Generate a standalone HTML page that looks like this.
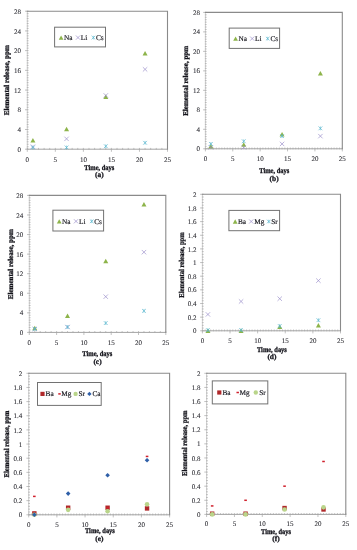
<!DOCTYPE html>
<html><head><meta charset="utf-8"><title>Elemental release</title>
<style>
html,body{margin:0;padding:0;background:#fff;}
svg{display:block;filter:blur(0.3px);}
text{text-rendering:geometricPrecision;}
.t{font-family:"Liberation Serif",serif;font-size:7px;fill:#2a2a30;stroke:#2a2a30;stroke-width:0.08px;}
.l{font-family:"Liberation Serif",serif;font-size:7.3px;fill:#15151c;stroke:#15151c;stroke-width:0.15px;}
.c{font-family:"Liberation Serif",serif;font-size:7.4px;font-weight:bold;fill:#15151c;stroke:#15151c;stroke-width:0.3px;}
.b{font-family:"Liberation Serif",serif;font-size:7.4px;font-weight:bold;fill:#15151c;stroke:#15151c;stroke-width:0.3px;}
</style></head><body>
<svg width="357" height="550" viewBox="0 0 357 550">
<rect width="357" height="550" fill="#fff"/>
<path d="M27.30,11.20V149.20" stroke="#d0d0d0" stroke-width="1" fill="none"/>
<path d="M27.30,149.20H167.50" stroke="#a4a4a4" stroke-width="1" fill="none"/>
<path d="M26.80,149.20h1.8M26.80,146.74h1.8M26.80,144.27h1.8M26.80,141.81h1.8M26.80,139.34h1.8M26.80,136.88h1.8M26.80,134.41h1.8M26.80,131.95h1.8M26.80,129.49h1.8M26.80,127.02h1.8M26.80,124.56h1.8M26.80,122.09h1.8M26.80,119.63h1.8M26.80,117.16h1.8M26.80,114.70h1.8M26.80,112.24h1.8M26.80,109.77h1.8M26.80,107.31h1.8M26.80,104.84h1.8M26.80,102.38h1.8M26.80,99.91h1.8M26.80,97.45h1.8M26.80,94.99h1.8M26.80,92.52h1.8M26.80,90.06h1.8M26.80,87.59h1.8M26.80,85.13h1.8M26.80,82.66h1.8M26.80,80.20h1.8M26.80,77.74h1.8M26.80,75.27h1.8M26.80,72.81h1.8M26.80,70.34h1.8M26.80,67.88h1.8M26.80,65.41h1.8M26.80,62.95h1.8M26.80,60.49h1.8M26.80,58.02h1.8M26.80,55.56h1.8M26.80,53.09h1.8M26.80,50.63h1.8M26.80,48.16h1.8M26.80,45.70h1.8M26.80,43.24h1.8M26.80,40.77h1.8M26.80,38.31h1.8M26.80,35.84h1.8M26.80,33.38h1.8M26.80,30.91h1.8M26.80,28.45h1.8M26.80,25.99h1.8M26.80,23.52h1.8M26.80,21.06h1.8M26.80,18.59h1.8M26.80,16.13h1.8M26.80,13.66h1.8M26.80,11.20h1.8M25.00,149.20h2.3M25.00,129.49h2.3M25.00,109.77h2.3M25.00,90.06h2.3M25.00,70.34h2.3M25.00,50.63h2.3M25.00,30.91h2.3M25.00,11.20h2.3M27.30,149.70v-1.8M32.91,149.70v-1.8M38.52,149.70v-1.8M44.12,149.70v-1.8M49.73,149.70v-1.8M55.34,149.70v-1.8M60.95,149.70v-1.8M66.56,149.70v-1.8M72.16,149.70v-1.8M77.77,149.70v-1.8M83.38,149.70v-1.8M88.99,149.70v-1.8M94.60,149.70v-1.8M100.20,149.70v-1.8M105.81,149.70v-1.8M111.42,149.70v-1.8M117.03,149.70v-1.8M122.64,149.70v-1.8M128.24,149.70v-1.8M133.85,149.70v-1.8M139.46,149.70v-1.8M145.07,149.70v-1.8M150.68,149.70v-1.8M156.28,149.70v-1.8M161.89,149.70v-1.8M167.50,149.70v-1.8M27.30,149.20v2.6M55.34,149.20v2.6M83.38,149.20v2.6M111.42,149.20v2.6M139.46,149.20v2.6M167.50,149.20v2.6" stroke="#a8a8a8" stroke-width="0.7" fill="none"/>
<path d="M26.80,11.20H167.50V149.70" stroke="#8a8a8a" stroke-width="1.1" fill="none"/>
<text x="21.00" y="151.80" class="t" text-anchor="end">0</text>
<text x="21.00" y="132.09" class="t" text-anchor="end">4</text>
<text x="21.00" y="112.37" class="t" text-anchor="end">8</text>
<text x="21.00" y="92.66" class="t" text-anchor="end">12</text>
<text x="21.00" y="72.94" class="t" text-anchor="end">16</text>
<text x="21.00" y="53.23" class="t" text-anchor="end">20</text>
<text x="21.00" y="33.51" class="t" text-anchor="end">24</text>
<text x="21.00" y="13.80" class="t" text-anchor="end">28</text>
<text x="27.30" y="161.60" class="t" text-anchor="middle">0</text>
<text x="55.34" y="161.60" class="t" text-anchor="middle">5</text>
<text x="83.38" y="161.60" class="t" text-anchor="middle">10</text>
<text x="111.42" y="161.60" class="t" text-anchor="middle">15</text>
<text x="139.46" y="161.60" class="t" text-anchor="middle">20</text>
<text x="167.50" y="161.60" class="t" text-anchor="middle">25</text>
<polygon points="30.41,142.58 35.41,142.58 32.91,138.08" fill="#8db44a"/>
<polygon points="64.06,131.24 69.06,131.24 66.56,126.74" fill="#8db44a"/>
<polygon points="103.31,98.96 108.31,98.96 105.81,94.46" fill="#8db44a"/>
<polygon points="142.57,55.59 147.57,55.59 145.07,51.09" fill="#8db44a"/>
<path d="M30.71,144.54L35.11,148.94M35.11,144.54L30.71,148.94" stroke="#9488c8" stroke-width="0.65" fill="none"/>
<path d="M64.36,136.65L68.76,141.05M68.76,136.65L64.36,141.05" stroke="#9488c8" stroke-width="0.65" fill="none"/>
<path d="M103.61,93.28L108.01,97.68M108.01,93.28L103.61,97.68" stroke="#9488c8" stroke-width="0.65" fill="none"/>
<path d="M142.87,67.16L147.27,71.56M147.27,67.16L142.87,71.56" stroke="#9488c8" stroke-width="0.65" fill="none"/>
<path d="M31.01,145.57L34.81,149.38M34.81,145.57L31.01,149.38" stroke="#5bb8d0" stroke-width="0.7" fill="none"/><path d="M32.91,145.57L32.91,149.38" stroke="#5bb8d0" stroke-width="0.6" fill="none"/>
<path d="M64.66,145.57L68.46,149.38M68.46,145.57L64.66,149.38" stroke="#5bb8d0" stroke-width="0.7" fill="none"/><path d="M66.56,145.57L66.56,149.38" stroke="#5bb8d0" stroke-width="0.6" fill="none"/>
<path d="M103.91,144.34L107.71,148.14M107.71,144.34L103.91,148.14" stroke="#5bb8d0" stroke-width="0.7" fill="none"/><path d="M105.81,144.34L105.81,148.14" stroke="#5bb8d0" stroke-width="0.6" fill="none"/>
<path d="M143.17,140.89L146.97,144.69M146.97,140.89L143.17,144.69" stroke="#5bb8d0" stroke-width="0.7" fill="none"/><path d="M145.07,140.89L145.07,144.69" stroke="#5bb8d0" stroke-width="0.6" fill="none"/>
<rect x="54.60" y="27.20" width="50.90" height="19.70" fill="#fff" stroke="#727272" stroke-width="1"/>
<polygon points="58.73,39.74 63.48,39.74 61.10,35.46" fill="#8db44a"/>
<text x="64.00" y="39.80" class="l">Na</text>
<path d="M75.91,35.51L80.09,39.69M80.09,35.51L75.91,39.69" stroke="#9488c8" stroke-width="0.65" fill="none"/>
<text x="80.70" y="39.80" class="l">Li</text>
<path d="M91.59,35.80L95.21,39.41M95.21,35.80L91.59,39.41" stroke="#5bb8d0" stroke-width="0.7" fill="none"/><path d="M93.40,35.80L93.40,39.41" stroke="#5bb8d0" stroke-width="0.6" fill="none"/>
<text x="96.00" y="39.80" class="l">Cs</text>
<text x="0" y="0" class="b" text-anchor="middle" textLength="70" lengthAdjust="spacingAndGlyphs" transform="translate(9.20,80.25) rotate(-90)">Elemental release, ppm</text>
<text x="99.30" y="169.70" class="b" text-anchor="middle" textLength="29.9" lengthAdjust="spacingAndGlyphs">Time, days</text>
<text x="99.30" y="177.20" class="c" text-anchor="middle">(a)</text>
<path d="M205.40,12.40V148.80" stroke="#d0d0d0" stroke-width="1" fill="none"/>
<path d="M205.40,148.80H342.30" stroke="#a4a4a4" stroke-width="1" fill="none"/>
<path d="M204.90,148.80h1.8M204.90,146.36h1.8M204.90,143.93h1.8M204.90,141.49h1.8M204.90,139.06h1.8M204.90,136.62h1.8M204.90,134.19h1.8M204.90,131.75h1.8M204.90,129.31h1.8M204.90,126.88h1.8M204.90,124.44h1.8M204.90,122.01h1.8M204.90,119.57h1.8M204.90,117.14h1.8M204.90,114.70h1.8M204.90,112.26h1.8M204.90,109.83h1.8M204.90,107.39h1.8M204.90,104.96h1.8M204.90,102.52h1.8M204.90,100.09h1.8M204.90,97.65h1.8M204.90,95.21h1.8M204.90,92.78h1.8M204.90,90.34h1.8M204.90,87.91h1.8M204.90,85.47h1.8M204.90,83.04h1.8M204.90,80.60h1.8M204.90,78.16h1.8M204.90,75.73h1.8M204.90,73.29h1.8M204.90,70.86h1.8M204.90,68.42h1.8M204.90,65.99h1.8M204.90,63.55h1.8M204.90,61.11h1.8M204.90,58.68h1.8M204.90,56.24h1.8M204.90,53.81h1.8M204.90,51.37h1.8M204.90,48.94h1.8M204.90,46.50h1.8M204.90,44.06h1.8M204.90,41.63h1.8M204.90,39.19h1.8M204.90,36.76h1.8M204.90,34.32h1.8M204.90,31.89h1.8M204.90,29.45h1.8M204.90,27.01h1.8M204.90,24.58h1.8M204.90,22.14h1.8M204.90,19.71h1.8M204.90,17.27h1.8M204.90,14.84h1.8M204.90,12.40h1.8M203.10,148.80h2.3M203.10,129.31h2.3M203.10,109.83h2.3M203.10,90.34h2.3M203.10,70.86h2.3M203.10,51.37h2.3M203.10,31.89h2.3M203.10,12.40h2.3M205.40,149.30v-1.8M208.14,149.30v-1.8M210.88,149.30v-1.8M213.61,149.30v-1.8M216.35,149.30v-1.8M219.09,149.30v-1.8M221.83,149.30v-1.8M224.57,149.30v-1.8M227.30,149.30v-1.8M230.04,149.30v-1.8M232.78,149.30v-1.8M235.52,149.30v-1.8M238.26,149.30v-1.8M240.99,149.30v-1.8M243.73,149.30v-1.8M246.47,149.30v-1.8M249.21,149.30v-1.8M251.95,149.30v-1.8M254.68,149.30v-1.8M257.42,149.30v-1.8M260.16,149.30v-1.8M262.90,149.30v-1.8M265.64,149.30v-1.8M268.37,149.30v-1.8M271.11,149.30v-1.8M273.85,149.30v-1.8M276.59,149.30v-1.8M279.33,149.30v-1.8M282.06,149.30v-1.8M284.80,149.30v-1.8M287.54,149.30v-1.8M290.28,149.30v-1.8M293.02,149.30v-1.8M295.75,149.30v-1.8M298.49,149.30v-1.8M301.23,149.30v-1.8M303.97,149.30v-1.8M306.71,149.30v-1.8M309.44,149.30v-1.8M312.18,149.30v-1.8M314.92,149.30v-1.8M317.66,149.30v-1.8M320.40,149.30v-1.8M323.13,149.30v-1.8M325.87,149.30v-1.8M328.61,149.30v-1.8M331.35,149.30v-1.8M334.09,149.30v-1.8M336.82,149.30v-1.8M339.56,149.30v-1.8M342.30,149.30v-1.8M205.40,148.80v2.6M232.78,148.80v2.6M260.16,148.80v2.6M287.54,148.80v2.6M314.92,148.80v2.6M342.30,148.80v2.6" stroke="#a8a8a8" stroke-width="0.7" fill="none"/>
<path d="M204.90,12.40H342.30V149.30" stroke="#8a8a8a" stroke-width="1.1" fill="none"/>
<text x="199.90" y="151.40" class="t" text-anchor="end">0</text>
<text x="199.90" y="131.91" class="t" text-anchor="end">4</text>
<text x="199.90" y="112.43" class="t" text-anchor="end">8</text>
<text x="199.90" y="92.94" class="t" text-anchor="end">12</text>
<text x="199.90" y="73.46" class="t" text-anchor="end">16</text>
<text x="199.90" y="53.97" class="t" text-anchor="end">20</text>
<text x="199.90" y="34.49" class="t" text-anchor="end">24</text>
<text x="199.90" y="15.00" class="t" text-anchor="end">28</text>
<text x="205.40" y="161.20" class="t" text-anchor="middle">0</text>
<text x="232.78" y="161.20" class="t" text-anchor="middle">5</text>
<text x="260.16" y="161.20" class="t" text-anchor="middle">10</text>
<text x="287.54" y="161.20" class="t" text-anchor="middle">15</text>
<text x="314.92" y="161.20" class="t" text-anchor="middle">20</text>
<text x="342.30" y="161.20" class="t" text-anchor="middle">25</text>
<polygon points="208.38,148.61 213.38,148.61 210.88,144.11" fill="#8db44a"/>
<polygon points="241.23,146.67 246.23,146.67 243.73,142.17" fill="#8db44a"/>
<polygon points="279.56,136.44 284.56,136.44 282.06,131.94" fill="#8db44a"/>
<polygon points="317.90,75.54 322.90,75.54 320.40,71.04" fill="#8db44a"/>
<path d="M208.68,145.14L213.08,149.54M213.08,145.14L208.68,149.54" stroke="#9488c8" stroke-width="0.65" fill="none"/>
<path d="M241.53,145.14L245.93,149.54M245.93,145.14L241.53,149.54" stroke="#9488c8" stroke-width="0.65" fill="none"/>
<path d="M279.86,141.73L284.26,146.13M284.26,141.73L279.86,146.13" stroke="#9488c8" stroke-width="0.65" fill="none"/>
<path d="M318.20,133.93L322.60,138.33M322.60,133.93L318.20,138.33" stroke="#9488c8" stroke-width="0.65" fill="none"/>
<path d="M208.98,142.03L212.78,145.83M212.78,142.03L208.98,145.83" stroke="#5bb8d0" stroke-width="0.7" fill="none"/><path d="M210.88,142.03L210.88,145.83" stroke="#5bb8d0" stroke-width="0.6" fill="none"/>
<path d="M241.83,139.35L245.63,143.15M245.63,139.35L241.83,143.15" stroke="#5bb8d0" stroke-width="0.7" fill="none"/><path d="M243.73,139.35L243.73,143.15" stroke="#5bb8d0" stroke-width="0.6" fill="none"/>
<path d="M280.16,134.23L283.96,138.03M283.96,134.23L280.16,138.03" stroke="#5bb8d0" stroke-width="0.7" fill="none"/><path d="M282.06,134.23L282.06,138.03" stroke="#5bb8d0" stroke-width="0.6" fill="none"/>
<path d="M318.50,126.44L322.30,130.24M322.30,126.44L318.50,130.24" stroke="#5bb8d0" stroke-width="0.7" fill="none"/><path d="M320.40,126.44L320.40,130.24" stroke="#5bb8d0" stroke-width="0.6" fill="none"/>
<rect x="229.20" y="28.10" width="50.40" height="20.30" fill="#fff" stroke="#727272" stroke-width="1"/>
<polygon points="233.22,40.74 237.97,40.74 235.60,36.46" fill="#8db44a"/>
<text x="238.50" y="40.80" class="l">Na</text>
<path d="M250.11,36.51L254.29,40.69M254.29,36.51L250.11,40.69" stroke="#9488c8" stroke-width="0.65" fill="none"/>
<text x="255.00" y="40.80" class="l">Li</text>
<path d="M265.89,36.80L269.50,40.41M269.50,36.80L265.89,40.41" stroke="#5bb8d0" stroke-width="0.7" fill="none"/><path d="M267.70,36.80L267.70,40.41" stroke="#5bb8d0" stroke-width="0.6" fill="none"/>
<text x="270.50" y="40.80" class="l">Cs</text>
<text x="0" y="0" class="b" text-anchor="middle" textLength="70" lengthAdjust="spacingAndGlyphs" transform="translate(188.40,80.85) rotate(-90)">Elemental release, ppm</text>
<text x="274.20" y="173.30" class="b" text-anchor="middle" textLength="29.9" lengthAdjust="spacingAndGlyphs">Time, days</text>
<text x="274.10" y="180.60" class="c" text-anchor="middle">(b)</text>
<path d="M29.30,195.40V332.40" stroke="#d0d0d0" stroke-width="1" fill="none"/>
<path d="M29.30,332.40H165.80" stroke="#a4a4a4" stroke-width="1" fill="none"/>
<path d="M28.80,332.40h1.8M28.80,329.95h1.8M28.80,327.51h1.8M28.80,325.06h1.8M28.80,322.61h1.8M28.80,320.17h1.8M28.80,317.72h1.8M28.80,315.27h1.8M28.80,312.83h1.8M28.80,310.38h1.8M28.80,307.94h1.8M28.80,305.49h1.8M28.80,303.04h1.8M28.80,300.60h1.8M28.80,298.15h1.8M28.80,295.70h1.8M28.80,293.26h1.8M28.80,290.81h1.8M28.80,288.36h1.8M28.80,285.92h1.8M28.80,283.47h1.8M28.80,281.02h1.8M28.80,278.58h1.8M28.80,276.13h1.8M28.80,273.69h1.8M28.80,271.24h1.8M28.80,268.79h1.8M28.80,266.35h1.8M28.80,263.90h1.8M28.80,261.45h1.8M28.80,259.01h1.8M28.80,256.56h1.8M28.80,254.11h1.8M28.80,251.67h1.8M28.80,249.22h1.8M28.80,246.78h1.8M28.80,244.33h1.8M28.80,241.88h1.8M28.80,239.44h1.8M28.80,236.99h1.8M28.80,234.54h1.8M28.80,232.10h1.8M28.80,229.65h1.8M28.80,227.20h1.8M28.80,224.76h1.8M28.80,222.31h1.8M28.80,219.86h1.8M28.80,217.42h1.8M28.80,214.97h1.8M28.80,212.53h1.8M28.80,210.08h1.8M28.80,207.63h1.8M28.80,205.19h1.8M28.80,202.74h1.8M28.80,200.29h1.8M28.80,197.85h1.8M28.80,195.40h1.8M27.00,332.40h2.3M27.00,312.83h2.3M27.00,293.26h2.3M27.00,273.69h2.3M27.00,254.11h2.3M27.00,234.54h2.3M27.00,214.97h2.3M27.00,195.40h2.3M29.30,332.90v-1.8M34.76,332.90v-1.8M40.22,332.90v-1.8M45.68,332.90v-1.8M51.14,332.90v-1.8M56.60,332.90v-1.8M62.06,332.90v-1.8M67.52,332.90v-1.8M72.98,332.90v-1.8M78.44,332.90v-1.8M83.90,332.90v-1.8M89.36,332.90v-1.8M94.82,332.90v-1.8M100.28,332.90v-1.8M105.74,332.90v-1.8M111.20,332.90v-1.8M116.66,332.90v-1.8M122.12,332.90v-1.8M127.58,332.90v-1.8M133.04,332.90v-1.8M138.50,332.90v-1.8M143.96,332.90v-1.8M149.42,332.90v-1.8M154.88,332.90v-1.8M160.34,332.90v-1.8M165.80,332.90v-1.8M29.30,332.40v2.6M56.60,332.40v2.6M83.90,332.40v2.6M111.20,332.40v2.6M138.50,332.40v2.6M165.80,332.40v2.6" stroke="#a8a8a8" stroke-width="0.7" fill="none"/>
<path d="M28.80,195.40H165.80V332.90" stroke="#8a8a8a" stroke-width="1.1" fill="none"/>
<text x="23.20" y="335.00" class="t" text-anchor="end">0</text>
<text x="23.20" y="315.43" class="t" text-anchor="end">4</text>
<text x="23.20" y="295.86" class="t" text-anchor="end">8</text>
<text x="23.20" y="276.29" class="t" text-anchor="end">12</text>
<text x="23.20" y="256.71" class="t" text-anchor="end">16</text>
<text x="23.20" y="237.14" class="t" text-anchor="end">20</text>
<text x="23.20" y="217.57" class="t" text-anchor="end">24</text>
<text x="23.20" y="198.00" class="t" text-anchor="end">28</text>
<text x="29.30" y="344.80" class="t" text-anchor="middle">0</text>
<text x="56.60" y="344.80" class="t" text-anchor="middle">5</text>
<text x="83.90" y="344.80" class="t" text-anchor="middle">10</text>
<text x="111.20" y="344.80" class="t" text-anchor="middle">15</text>
<text x="138.50" y="344.80" class="t" text-anchor="middle">20</text>
<text x="165.80" y="344.80" class="t" text-anchor="middle">25</text>
<polygon points="32.26,330.25 37.26,330.25 34.76,325.75" fill="#8db44a"/>
<polygon points="65.02,318.01 70.02,318.01 67.52,313.51" fill="#8db44a"/>
<polygon points="103.24,263.21 108.24,263.21 105.74,258.71" fill="#8db44a"/>
<polygon points="141.46,206.46 146.46,206.46 143.96,201.96" fill="#8db44a"/>
<path d="M32.56,326.77L36.96,331.17M36.96,326.77L32.56,331.17" stroke="#9488c8" stroke-width="0.65" fill="none"/>
<path d="M65.32,324.82L69.72,329.22M69.72,324.82L65.32,329.22" stroke="#9488c8" stroke-width="0.65" fill="none"/>
<path d="M103.54,294.48L107.94,298.88M107.94,294.48L103.54,298.88" stroke="#9488c8" stroke-width="0.65" fill="none"/>
<path d="M141.76,249.96L146.16,254.36M146.16,249.96L141.76,254.36" stroke="#9488c8" stroke-width="0.65" fill="none"/>
<path d="M32.86,327.07L36.66,330.87M36.66,327.07L32.86,330.87" stroke="#5bb8d0" stroke-width="0.7" fill="none"/><path d="M34.76,327.07L34.76,330.87" stroke="#5bb8d0" stroke-width="0.6" fill="none"/>
<path d="M65.62,325.12L69.42,328.92M69.42,325.12L65.62,328.92" stroke="#5bb8d0" stroke-width="0.7" fill="none"/><path d="M67.52,325.12L67.52,328.92" stroke="#5bb8d0" stroke-width="0.6" fill="none"/>
<path d="M103.84,321.20L107.64,325.00M107.64,321.20L103.84,325.00" stroke="#5bb8d0" stroke-width="0.7" fill="none"/><path d="M105.74,321.20L105.74,325.00" stroke="#5bb8d0" stroke-width="0.6" fill="none"/>
<path d="M142.06,308.97L145.86,312.77M145.86,308.97L142.06,312.77" stroke="#5bb8d0" stroke-width="0.7" fill="none"/><path d="M143.96,308.97L143.96,312.77" stroke="#5bb8d0" stroke-width="0.6" fill="none"/>
<rect x="52.90" y="210.20" width="50.70" height="20.80" fill="#fff" stroke="#727272" stroke-width="1"/>
<polygon points="56.83,223.44 61.58,223.44 59.20,219.16" fill="#8db44a"/>
<text x="62.00" y="223.50" class="l">Na</text>
<path d="M73.91,219.21L78.09,223.39M78.09,219.21L73.91,223.39" stroke="#9488c8" stroke-width="0.65" fill="none"/>
<text x="79.00" y="223.50" class="l">Li</text>
<path d="M89.89,219.50L93.51,223.11M93.51,219.50L89.89,223.11" stroke="#5bb8d0" stroke-width="0.7" fill="none"/><path d="M91.70,219.50L91.70,223.11" stroke="#5bb8d0" stroke-width="0.6" fill="none"/>
<text x="94.20" y="223.50" class="l">Cs</text>
<text x="0" y="0" class="b" text-anchor="middle" textLength="70" lengthAdjust="spacingAndGlyphs" transform="translate(12.80,264.20) rotate(-90)">Elemental release, ppm</text>
<text x="97.30" y="355.80" class="b" text-anchor="middle" textLength="29.9" lengthAdjust="spacingAndGlyphs">Time, days</text>
<text x="97.50" y="363.60" class="c" text-anchor="middle">(c)</text>
<path d="M202.40,194.30V330.80" stroke="#d0d0d0" stroke-width="1" fill="none"/>
<path d="M202.40,330.80H340.50" stroke="#a4a4a4" stroke-width="1" fill="none"/>
<path d="M201.90,330.80h1.8M201.90,328.07h1.8M201.90,325.34h1.8M201.90,322.61h1.8M201.90,319.88h1.8M201.90,317.15h1.8M201.90,314.42h1.8M201.90,311.69h1.8M201.90,308.96h1.8M201.90,306.23h1.8M201.90,303.50h1.8M201.90,300.77h1.8M201.90,298.04h1.8M201.90,295.31h1.8M201.90,292.58h1.8M201.90,289.85h1.8M201.90,287.12h1.8M201.90,284.39h1.8M201.90,281.66h1.8M201.90,278.93h1.8M201.90,276.20h1.8M201.90,273.47h1.8M201.90,270.74h1.8M201.90,268.01h1.8M201.90,265.28h1.8M201.90,262.55h1.8M201.90,259.82h1.8M201.90,257.09h1.8M201.90,254.36h1.8M201.90,251.63h1.8M201.90,248.90h1.8M201.90,246.17h1.8M201.90,243.44h1.8M201.90,240.71h1.8M201.90,237.98h1.8M201.90,235.25h1.8M201.90,232.52h1.8M201.90,229.79h1.8M201.90,227.06h1.8M201.90,224.33h1.8M201.90,221.60h1.8M201.90,218.87h1.8M201.90,216.14h1.8M201.90,213.41h1.8M201.90,210.68h1.8M201.90,207.95h1.8M201.90,205.22h1.8M201.90,202.49h1.8M201.90,199.76h1.8M201.90,197.03h1.8M201.90,194.30h1.8M200.10,330.80h2.3M200.10,317.15h2.3M200.10,303.50h2.3M200.10,289.85h2.3M200.10,276.20h2.3M200.10,262.55h2.3M200.10,248.90h2.3M200.10,235.25h2.3M200.10,221.60h2.3M200.10,207.95h2.3M200.10,194.30h2.3M202.40,331.30v-1.8M205.16,331.30v-1.8M207.92,331.30v-1.8M210.69,331.30v-1.8M213.45,331.30v-1.8M216.21,331.30v-1.8M218.97,331.30v-1.8M221.73,331.30v-1.8M224.50,331.30v-1.8M227.26,331.30v-1.8M230.02,331.30v-1.8M232.78,331.30v-1.8M235.54,331.30v-1.8M238.31,331.30v-1.8M241.07,331.30v-1.8M243.83,331.30v-1.8M246.59,331.30v-1.8M249.35,331.30v-1.8M252.12,331.30v-1.8M254.88,331.30v-1.8M257.64,331.30v-1.8M260.40,331.30v-1.8M263.16,331.30v-1.8M265.93,331.30v-1.8M268.69,331.30v-1.8M271.45,331.30v-1.8M274.21,331.30v-1.8M276.97,331.30v-1.8M279.74,331.30v-1.8M282.50,331.30v-1.8M285.26,331.30v-1.8M288.02,331.30v-1.8M290.78,331.30v-1.8M293.55,331.30v-1.8M296.31,331.30v-1.8M299.07,331.30v-1.8M301.83,331.30v-1.8M304.59,331.30v-1.8M307.36,331.30v-1.8M310.12,331.30v-1.8M312.88,331.30v-1.8M315.64,331.30v-1.8M318.40,331.30v-1.8M321.17,331.30v-1.8M323.93,331.30v-1.8M326.69,331.30v-1.8M329.45,331.30v-1.8M332.21,331.30v-1.8M334.98,331.30v-1.8M337.74,331.30v-1.8M340.50,331.30v-1.8M202.40,330.80v2.6M230.02,330.80v2.6M257.64,330.80v2.6M285.26,330.80v2.6M312.88,330.80v2.6M340.50,330.80v2.6" stroke="#a8a8a8" stroke-width="0.7" fill="none"/>
<path d="M201.90,194.30H340.50V331.30" stroke="#8a8a8a" stroke-width="1.1" fill="none"/>
<text x="196.40" y="333.40" class="t" text-anchor="end">0</text>
<text x="196.40" y="319.75" class="t" text-anchor="end">0.2</text>
<text x="196.40" y="306.10" class="t" text-anchor="end">0.4</text>
<text x="196.40" y="292.45" class="t" text-anchor="end">0.6</text>
<text x="196.40" y="278.80" class="t" text-anchor="end">0.8</text>
<text x="196.40" y="265.15" class="t" text-anchor="end">1</text>
<text x="196.40" y="251.50" class="t" text-anchor="end">1.2</text>
<text x="196.40" y="237.85" class="t" text-anchor="end">1.4</text>
<text x="196.40" y="224.20" class="t" text-anchor="end">1.6</text>
<text x="196.40" y="210.55" class="t" text-anchor="end">1.8</text>
<text x="196.40" y="196.90" class="t" text-anchor="end">2</text>
<text x="202.40" y="343.20" class="t" text-anchor="middle">0</text>
<text x="230.02" y="343.20" class="t" text-anchor="middle">5</text>
<text x="257.64" y="343.20" class="t" text-anchor="middle">10</text>
<text x="285.26" y="343.20" class="t" text-anchor="middle">15</text>
<text x="312.88" y="343.20" class="t" text-anchor="middle">20</text>
<text x="340.50" y="343.20" class="t" text-anchor="middle">25</text>
<polygon points="205.42,333.05 210.42,333.05 207.92,328.55" fill="#8db44a"/>
<polygon points="238.57,333.05 243.57,333.05 241.07,328.55" fill="#8db44a"/>
<polygon points="277.24,328.95 282.24,328.95 279.74,324.45" fill="#8db44a"/>
<polygon points="315.90,327.59 320.90,327.59 318.40,323.09" fill="#8db44a"/>
<path d="M205.72,312.22L210.12,316.62M210.12,312.22L205.72,316.62" stroke="#9488c8" stroke-width="0.65" fill="none"/>
<path d="M238.87,299.25L243.27,303.65M243.27,299.25L238.87,303.65" stroke="#9488c8" stroke-width="0.65" fill="none"/>
<path d="M277.54,296.52L281.94,300.92M281.94,296.52L277.54,300.92" stroke="#9488c8" stroke-width="0.65" fill="none"/>
<path d="M316.20,278.44L320.60,282.84M320.60,278.44L316.20,282.84" stroke="#9488c8" stroke-width="0.65" fill="none"/>
<path d="M206.02,328.22L209.82,332.02M209.82,328.22L206.02,332.02" stroke="#5bb8d0" stroke-width="0.7" fill="none"/><path d="M207.92,328.22L207.92,332.02" stroke="#5bb8d0" stroke-width="0.6" fill="none"/>
<path d="M239.17,328.22L242.97,332.02M242.97,328.22L239.17,332.02" stroke="#5bb8d0" stroke-width="0.7" fill="none"/><path d="M241.07,328.22L241.07,332.02" stroke="#5bb8d0" stroke-width="0.6" fill="none"/>
<path d="M277.84,324.12L281.64,327.92M281.64,324.12L277.84,327.92" stroke="#5bb8d0" stroke-width="0.7" fill="none"/><path d="M279.74,324.12L279.74,327.92" stroke="#5bb8d0" stroke-width="0.6" fill="none"/>
<path d="M316.50,318.32L320.30,322.12M320.30,318.32L316.50,322.12" stroke="#5bb8d0" stroke-width="0.7" fill="none"/><path d="M318.40,318.32L318.40,322.12" stroke="#5bb8d0" stroke-width="0.6" fill="none"/>
<rect x="228.90" y="210.40" width="50.70" height="20.30" fill="#fff" stroke="#727272" stroke-width="1"/>
<polygon points="232.82,223.64 237.57,223.64 235.20,219.36" fill="#8db44a"/>
<text x="238.00" y="223.70" class="l">Ba</text>
<path d="M249.11,219.41L253.29,223.59M253.29,219.41L249.11,223.59" stroke="#9488c8" stroke-width="0.65" fill="none"/>
<text x="254.20" y="223.70" class="l">Mg</text>
<path d="M267.00,219.69L270.61,223.31M270.61,219.69L267.00,223.31" stroke="#5bb8d0" stroke-width="0.7" fill="none"/><path d="M268.80,219.69L268.80,223.31" stroke="#5bb8d0" stroke-width="0.6" fill="none"/>
<text x="271.30" y="223.70" class="l">Sr</text>
<text x="0" y="0" class="b" text-anchor="middle" textLength="65.5" lengthAdjust="spacingAndGlyphs" transform="translate(183.80,265.00) rotate(-90)">Elemental release, ppm</text>
<text x="271.90" y="352.00" class="b" text-anchor="middle" textLength="29.9" lengthAdjust="spacingAndGlyphs">Time, days</text>
<text x="271.90" y="359.20" class="c" text-anchor="middle">(d)</text>
<path d="M28.70,373.30V514.80" stroke="#d0d0d0" stroke-width="1" fill="none"/>
<path d="M28.70,514.80H169.60" stroke="#a4a4a4" stroke-width="1" fill="none"/>
<path d="M28.20,514.80h1.8M28.20,511.97h1.8M28.20,509.14h1.8M28.20,506.31h1.8M28.20,503.48h1.8M28.20,500.65h1.8M28.20,497.82h1.8M28.20,494.99h1.8M28.20,492.16h1.8M28.20,489.33h1.8M28.20,486.50h1.8M28.20,483.67h1.8M28.20,480.84h1.8M28.20,478.01h1.8M28.20,475.18h1.8M28.20,472.35h1.8M28.20,469.52h1.8M28.20,466.69h1.8M28.20,463.86h1.8M28.20,461.03h1.8M28.20,458.20h1.8M28.20,455.37h1.8M28.20,452.54h1.8M28.20,449.71h1.8M28.20,446.88h1.8M28.20,444.05h1.8M28.20,441.22h1.8M28.20,438.39h1.8M28.20,435.56h1.8M28.20,432.73h1.8M28.20,429.90h1.8M28.20,427.07h1.8M28.20,424.24h1.8M28.20,421.41h1.8M28.20,418.58h1.8M28.20,415.75h1.8M28.20,412.92h1.8M28.20,410.09h1.8M28.20,407.26h1.8M28.20,404.43h1.8M28.20,401.60h1.8M28.20,398.77h1.8M28.20,395.94h1.8M28.20,393.11h1.8M28.20,390.28h1.8M28.20,387.45h1.8M28.20,384.62h1.8M28.20,381.79h1.8M28.20,378.96h1.8M28.20,376.13h1.8M28.20,373.30h1.8M26.40,514.80h2.3M26.40,500.65h2.3M26.40,486.50h2.3M26.40,472.35h2.3M26.40,458.20h2.3M26.40,444.05h2.3M26.40,429.90h2.3M26.40,415.75h2.3M26.40,401.60h2.3M26.40,387.45h2.3M26.40,373.30h2.3M28.70,515.30v-1.8M31.52,515.30v-1.8M34.34,515.30v-1.8M37.15,515.30v-1.8M39.97,515.30v-1.8M42.79,515.30v-1.8M45.61,515.30v-1.8M48.43,515.30v-1.8M51.24,515.30v-1.8M54.06,515.30v-1.8M56.88,515.30v-1.8M59.70,515.30v-1.8M62.52,515.30v-1.8M65.33,515.30v-1.8M68.15,515.30v-1.8M70.97,515.30v-1.8M73.79,515.30v-1.8M76.61,515.30v-1.8M79.42,515.30v-1.8M82.24,515.30v-1.8M85.06,515.30v-1.8M87.88,515.30v-1.8M90.70,515.30v-1.8M93.51,515.30v-1.8M96.33,515.30v-1.8M99.15,515.30v-1.8M101.97,515.30v-1.8M104.79,515.30v-1.8M107.60,515.30v-1.8M110.42,515.30v-1.8M113.24,515.30v-1.8M116.06,515.30v-1.8M118.88,515.30v-1.8M121.69,515.30v-1.8M124.51,515.30v-1.8M127.33,515.30v-1.8M130.15,515.30v-1.8M132.97,515.30v-1.8M135.78,515.30v-1.8M138.60,515.30v-1.8M141.42,515.30v-1.8M144.24,515.30v-1.8M147.06,515.30v-1.8M149.87,515.30v-1.8M152.69,515.30v-1.8M155.51,515.30v-1.8M158.33,515.30v-1.8M161.15,515.30v-1.8M163.96,515.30v-1.8M166.78,515.30v-1.8M169.60,515.30v-1.8M28.70,514.80v2.6M56.88,514.80v2.6M85.06,514.80v2.6M113.24,514.80v2.6M141.42,514.80v2.6M169.60,514.80v2.6" stroke="#a8a8a8" stroke-width="0.7" fill="none"/>
<path d="M28.20,373.30H169.60V515.30" stroke="#8a8a8a" stroke-width="1.1" fill="none"/>
<text x="22.30" y="517.40" class="t" text-anchor="end">0</text>
<text x="22.30" y="503.25" class="t" text-anchor="end">0.2</text>
<text x="22.30" y="489.10" class="t" text-anchor="end">0.4</text>
<text x="22.30" y="474.95" class="t" text-anchor="end">0.6</text>
<text x="22.30" y="460.80" class="t" text-anchor="end">0.8</text>
<text x="22.30" y="446.65" class="t" text-anchor="end">1</text>
<text x="22.30" y="432.50" class="t" text-anchor="end">1.2</text>
<text x="22.30" y="418.35" class="t" text-anchor="end">1.4</text>
<text x="22.30" y="404.20" class="t" text-anchor="end">1.6</text>
<text x="22.30" y="390.05" class="t" text-anchor="end">1.8</text>
<text x="22.30" y="375.90" class="t" text-anchor="end">2</text>
<text x="28.70" y="526.70" class="t" text-anchor="middle">0</text>
<text x="56.88" y="526.70" class="t" text-anchor="middle">5</text>
<text x="85.06" y="526.70" class="t" text-anchor="middle">10</text>
<text x="113.24" y="526.70" class="t" text-anchor="middle">15</text>
<text x="141.42" y="526.70" class="t" text-anchor="middle">20</text>
<text x="169.60" y="526.70" class="t" text-anchor="middle">25</text>
<rect x="32.14" y="511.19" width="4.40" height="4.40" fill="#b0282a"/>
<rect x="65.95" y="505.52" width="4.40" height="4.40" fill="#b0282a"/>
<rect x="105.40" y="505.52" width="4.40" height="4.40" fill="#b0282a"/>
<rect x="144.86" y="506.23" width="4.40" height="4.40" fill="#b0282a"/>
<rect x="33.04" y="495.65" width="2.60" height="1.5" fill="#d0202c"/>
<rect x="66.85" y="506.97" width="2.60" height="1.5" fill="#d0202c"/>
<rect x="106.30" y="506.97" width="2.60" height="1.5" fill="#d0202c"/>
<rect x="145.76" y="455.68" width="2.60" height="1.5" fill="#d0202c"/>
<circle cx="34.34" cy="514.80" r="2.30" fill="#b9d58a"/>
<circle cx="68.15" cy="509.85" r="2.30" fill="#b9d58a"/>
<circle cx="107.60" cy="511.26" r="2.30" fill="#b9d58a"/>
<circle cx="147.06" cy="504.19" r="2.30" fill="#b9d58a"/>
<polygon points="34.34,512.50 36.64,514.80 34.34,517.10 32.04,514.80" fill="#2e5fa8"/>
<polygon points="68.15,491.27 70.45,493.57 68.15,495.88 65.85,493.57" fill="#2e5fa8"/>
<polygon points="107.60,472.88 109.90,475.18 107.60,477.48 105.30,475.18" fill="#2e5fa8"/>
<polygon points="147.06,458.02 149.36,460.32 147.06,462.62 144.76,460.32" fill="#2e5fa8"/>
<rect x="37.50" y="382.50" width="63.70" height="22.90" fill="#fff" stroke="#727272" stroke-width="1"/>
<rect x="40.41" y="391.81" width="4.18" height="4.18" fill="#b0282a"/>
<text x="45.60" y="396.10" class="l">Ba</text>
<rect x="58.27" y="393.15" width="2.47" height="1.5" fill="#d0202c"/>
<text x="61.30" y="396.10" class="l">Mg</text>
<circle cx="75.60" cy="393.90" r="2.18" fill="#b9d58a"/>
<text x="78.50" y="396.10" class="l">Sr</text>
<polygon points="89.40,391.71 91.59,393.90 89.40,396.08 87.22,393.90" fill="#2e5fa8"/>
<text x="92.40" y="396.10" class="l">Ca</text>
<text x="0" y="0" class="b" text-anchor="middle" textLength="67" lengthAdjust="spacingAndGlyphs" transform="translate(9.00,444.10) rotate(-90)">Elemental release, ppm</text>
<text x="99.90" y="533.40" class="b" text-anchor="middle" textLength="29.9" lengthAdjust="spacingAndGlyphs">Time, days</text>
<text x="99.40" y="540.50" class="c" text-anchor="middle">(e)</text>
<path d="M206.60,373.30V514.40" stroke="#d0d0d0" stroke-width="1" fill="none"/>
<path d="M206.60,514.40H345.80" stroke="#a4a4a4" stroke-width="1" fill="none"/>
<path d="M206.10,514.40h1.8M206.10,511.58h1.8M206.10,508.76h1.8M206.10,505.93h1.8M206.10,503.11h1.8M206.10,500.29h1.8M206.10,497.47h1.8M206.10,494.65h1.8M206.10,491.82h1.8M206.10,489.00h1.8M206.10,486.18h1.8M206.10,483.36h1.8M206.10,480.54h1.8M206.10,477.71h1.8M206.10,474.89h1.8M206.10,472.07h1.8M206.10,469.25h1.8M206.10,466.43h1.8M206.10,463.60h1.8M206.10,460.78h1.8M206.10,457.96h1.8M206.10,455.14h1.8M206.10,452.32h1.8M206.10,449.49h1.8M206.10,446.67h1.8M206.10,443.85h1.8M206.10,441.03h1.8M206.10,438.21h1.8M206.10,435.38h1.8M206.10,432.56h1.8M206.10,429.74h1.8M206.10,426.92h1.8M206.10,424.10h1.8M206.10,421.27h1.8M206.10,418.45h1.8M206.10,415.63h1.8M206.10,412.81h1.8M206.10,409.99h1.8M206.10,407.16h1.8M206.10,404.34h1.8M206.10,401.52h1.8M206.10,398.70h1.8M206.10,395.88h1.8M206.10,393.05h1.8M206.10,390.23h1.8M206.10,387.41h1.8M206.10,384.59h1.8M206.10,381.77h1.8M206.10,378.94h1.8M206.10,376.12h1.8M206.10,373.30h1.8M204.30,514.40h2.3M204.30,500.29h2.3M204.30,486.18h2.3M204.30,472.07h2.3M204.30,457.96h2.3M204.30,443.85h2.3M204.30,429.74h2.3M204.30,415.63h2.3M204.30,401.52h2.3M204.30,387.41h2.3M204.30,373.30h2.3M206.60,514.90v-1.8M209.38,514.90v-1.8M212.17,514.90v-1.8M214.95,514.90v-1.8M217.74,514.90v-1.8M220.52,514.90v-1.8M223.30,514.90v-1.8M226.09,514.90v-1.8M228.87,514.90v-1.8M231.66,514.90v-1.8M234.44,514.90v-1.8M237.22,514.90v-1.8M240.01,514.90v-1.8M242.79,514.90v-1.8M245.58,514.90v-1.8M248.36,514.90v-1.8M251.14,514.90v-1.8M253.93,514.90v-1.8M256.71,514.90v-1.8M259.50,514.90v-1.8M262.28,514.90v-1.8M265.06,514.90v-1.8M267.85,514.90v-1.8M270.63,514.90v-1.8M273.42,514.90v-1.8M276.20,514.90v-1.8M278.98,514.90v-1.8M281.77,514.90v-1.8M284.55,514.90v-1.8M287.34,514.90v-1.8M290.12,514.90v-1.8M292.90,514.90v-1.8M295.69,514.90v-1.8M298.47,514.90v-1.8M301.26,514.90v-1.8M304.04,514.90v-1.8M306.82,514.90v-1.8M309.61,514.90v-1.8M312.39,514.90v-1.8M315.18,514.90v-1.8M317.96,514.90v-1.8M320.74,514.90v-1.8M323.53,514.90v-1.8M326.31,514.90v-1.8M329.10,514.90v-1.8M331.88,514.90v-1.8M334.66,514.90v-1.8M337.45,514.90v-1.8M340.23,514.90v-1.8M343.02,514.90v-1.8M345.80,514.90v-1.8M206.60,514.40v2.6M234.44,514.40v2.6M262.28,514.40v2.6M290.12,514.40v2.6M317.96,514.40v2.6M345.80,514.40v2.6" stroke="#a8a8a8" stroke-width="0.7" fill="none"/>
<path d="M206.10,373.30H345.80V514.90" stroke="#8a8a8a" stroke-width="1.1" fill="none"/>
<text x="200.50" y="517.00" class="t" text-anchor="end">0</text>
<text x="200.50" y="502.89" class="t" text-anchor="end">0.2</text>
<text x="200.50" y="488.78" class="t" text-anchor="end">0.4</text>
<text x="200.50" y="474.67" class="t" text-anchor="end">0.6</text>
<text x="200.50" y="460.56" class="t" text-anchor="end">0.8</text>
<text x="200.50" y="446.45" class="t" text-anchor="end">1</text>
<text x="200.50" y="432.34" class="t" text-anchor="end">1.2</text>
<text x="200.50" y="418.23" class="t" text-anchor="end">1.4</text>
<text x="200.50" y="404.12" class="t" text-anchor="end">1.6</text>
<text x="200.50" y="390.01" class="t" text-anchor="end">1.8</text>
<text x="200.50" y="375.90" class="t" text-anchor="end">2</text>
<text x="206.60" y="526.40" class="t" text-anchor="middle">0</text>
<text x="234.44" y="526.40" class="t" text-anchor="middle">5</text>
<text x="262.28" y="526.40" class="t" text-anchor="middle">10</text>
<text x="290.12" y="526.40" class="t" text-anchor="middle">15</text>
<text x="317.96" y="526.40" class="t" text-anchor="middle">20</text>
<text x="345.80" y="526.40" class="t" text-anchor="middle">25</text>
<rect x="209.97" y="511.49" width="4.40" height="4.40" fill="#b0282a"/>
<rect x="243.38" y="511.49" width="4.40" height="4.40" fill="#b0282a"/>
<rect x="282.35" y="505.85" width="4.40" height="4.40" fill="#b0282a"/>
<rect x="321.33" y="507.26" width="4.40" height="4.40" fill="#b0282a"/>
<rect x="210.87" y="505.18" width="2.60" height="1.5" fill="#d0202c"/>
<rect x="244.28" y="499.54" width="2.60" height="1.5" fill="#d0202c"/>
<rect x="283.25" y="485.43" width="2.60" height="1.5" fill="#d0202c"/>
<rect x="322.23" y="460.74" width="2.60" height="1.5" fill="#d0202c"/>
<circle cx="212.17" cy="514.40" r="2.30" fill="#b9d58a"/>
<circle cx="245.58" cy="514.40" r="2.30" fill="#b9d58a"/>
<circle cx="284.55" cy="509.46" r="2.30" fill="#b9d58a"/>
<circle cx="323.53" cy="507.34" r="2.30" fill="#b9d58a"/>
<rect x="212.30" y="380.90" width="55.50" height="23.00" fill="#fff" stroke="#727272" stroke-width="1"/>
<rect x="217.21" y="390.41" width="4.18" height="4.18" fill="#b0282a"/>
<text x="222.50" y="394.70" class="l">Ba</text>
<rect x="236.46" y="391.75" width="2.47" height="1.5" fill="#d0202c"/>
<text x="239.60" y="394.70" class="l">Mg</text>
<circle cx="255.80" cy="392.50" r="2.18" fill="#b9d58a"/>
<text x="259.30" y="394.70" class="l">Sr</text>
<text x="0" y="0" class="b" text-anchor="middle" textLength="65.5" lengthAdjust="spacingAndGlyphs" transform="translate(186.80,443.20) rotate(-90)">Elemental release, ppm</text>
<text x="276.00" y="533.60" class="b" text-anchor="middle" textLength="29.9" lengthAdjust="spacingAndGlyphs">Time, days</text>
<text x="275.90" y="541.00" class="c" text-anchor="middle">(f)</text>
</svg>
</body></html>
